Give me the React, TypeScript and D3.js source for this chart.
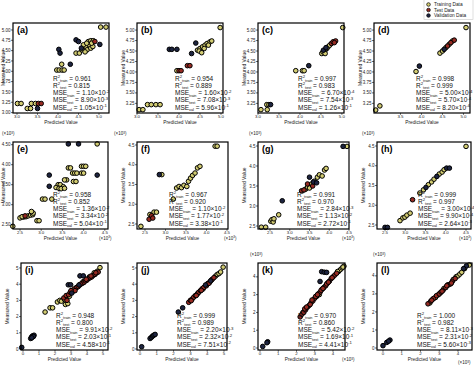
import React from 'react';
import * as d3 from 'd3';

type Pt = [number, number];

// ---- data: [predicted, measured] ----
const trainA: Pt[] = [[5.04,5.07],[5.17,5.07],[3.01,3.22],[3.10,3.22],[3.35,3.22],[3.45,3.22],[3.25,3.10],[3.33,3.10],[3.97,4.03],[4.03,4.03],[4.10,4.03],[4.15,4.03],[4.09,4.17],[4.44,4.44],[4.52,4.44],[4.58,4.52],[4.63,4.56],[4.68,4.60],[4.71,4.52],[4.76,4.64],[4.80,4.56],[4.85,4.60],[4.66,4.47],[4.74,4.72],[4.80,4.74],[4.86,4.74],[4.82,4.68],[4.62,4.64],[4.70,4.68]];
const testA: Pt[] = [[3.52,3.22],[3.59,3.22],[4.90,4.72]];
const valA: Pt[] = [[3.50,3.10],[4.30,4.17],[4.02,4.53],[4.05,4.44],[4.44,4.76],[4.50,4.72],[5.02,4.65],[4.57,4.56]];

const trainB: Pt[] = [[4.98,5.06],[3.05,3.10],[3.14,3.10],[3.25,3.22],[3.34,3.22],[3.45,3.22],[3.55,3.22],[3.95,4.03],[4.44,4.52],[4.50,4.56],[4.56,4.60],[4.62,4.64],[4.67,4.68],[4.74,4.72],[4.78,4.74],[4.48,4.50],[4.60,4.56],[4.70,4.64],[4.54,4.46]];
const testB: Pt[] = [[4.00,4.03],[4.05,4.03],[4.20,4.15],[4.26,4.15]];
const valB: Pt[] = [[3.77,4.54],[3.83,4.54],[3.95,4.54],[4.30,4.44],[4.40,4.69]];

const trainC: Pt[] = [[3.07,3.10],[3.22,3.10],[3.21,3.22],[3.26,3.22],[3.90,4.03],[4.06,4.03],[4.10,4.03],[4.52,4.44],[4.55,4.48],[4.60,4.52],[4.64,4.56],[4.67,4.60],[4.71,4.64],[4.60,4.44],[5.02,5.06]];
const testC: Pt[] = [[4.75,4.68],[4.79,4.72],[4.85,4.74],[4.82,4.70]];
const valC: Pt[] = [[3.30,3.22],[4.21,4.15],[4.56,4.52],[4.62,4.58]];

const trainD: Pt[] = [[2.91,3.09],[3.01,3.19],[3.87,4.01],[4.44,4.45],[4.50,4.50],[4.58,4.58],[4.66,4.66],[4.74,4.74],[5.06,5.06]];
const testD: Pt[] = [[4.62,4.62],[4.70,4.70],[4.78,4.76]];
const valD: Pt[] = [[3.95,4.14],[4.54,4.54]];

const trainE: Pt[] = [[4.32,4.52],[3.64,3.92],[3.69,3.92],[3.95,3.96],[4.00,3.96],[4.05,3.96],[3.74,3.79],[3.79,3.79],[3.84,3.79],[3.95,3.79],[4.00,3.79],[3.76,3.58],[3.82,3.58],[3.60,3.62],[3.55,3.62],[3.40,3.50],[3.45,3.50],[3.52,3.45],[3.35,3.43],[3.42,3.41],[3.47,3.40],[3.55,3.41],[3.03,3.14],[3.09,3.14],[3.25,3.14],[2.50,2.67],[2.58,2.69],[2.64,2.70],[2.69,2.72],[2.75,2.74],[2.80,2.75],[2.81,2.79],[2.77,2.83],[2.55,2.70],[2.90,2.60],[2.95,2.60],[2.33,2.46]];
const testE: Pt[] = [[2.62,2.72]];
const valE: Pt[] = [[3.64,4.52],[3.88,4.52],[4.32,3.74],[3.19,3.74],[3.19,3.46]];

const trainF: Pt[] = [[4.21,4.47],[4.26,4.47],[2.91,3.75],[3.19,3.13],[3.27,3.41],[3.33,3.45],[3.39,3.42],[3.45,3.48],[3.52,3.45],[3.56,3.58],[3.61,3.66],[3.66,3.73],[3.72,3.79],[3.78,3.92],[3.84,3.96],[2.62,2.74],[2.72,2.80],[2.78,2.80],[2.40,2.44]];
const testF: Pt[] = [[2.60,2.62],[2.66,2.71],[2.69,2.65]];
const valF: Pt[] = [[2.85,3.75]];

const trainG: Pt[] = [[2.28,2.47],[2.39,2.47],[2.52,2.62],[2.55,2.66],[2.58,2.60],[2.60,2.68],[2.72,2.78],[3.40,3.42],[3.45,3.47],[3.50,3.45],[3.55,3.55],[3.62,3.62],[3.70,3.72],[3.75,3.78],[3.82,3.75],[3.88,3.90],[3.92,3.94],[4.45,4.49]];
const testG: Pt[] = [[3.30,3.38],[3.36,3.40],[3.45,3.55],[3.58,3.50]];
const valG: Pt[] = [[2.81,3.13],[3.50,3.72],[3.60,3.60],[3.68,3.58],[4.35,4.49]];

const trainH: Pt[] = [[2.87,2.61],[2.94,2.68],[2.99,2.70],[3.04,2.75],[3.12,2.80],[3.36,3.31],[3.45,3.39],[3.57,3.52],[3.65,3.59],[3.71,3.66],[3.84,3.79],[3.91,3.84],[3.96,3.90],[4.50,4.49]];
const testH: Pt[] = [[3.18,3.14]];
const valH: Pt[] = [[2.50,2.44],[2.56,2.44],[3.51,3.45],[3.78,3.73],[4.02,3.94],[4.09,3.94]];

const trainI: Pt[] = [[1.38,2.28],[1.69,2.54],[1.85,2.54],[2.15,2.90],[2.30,3.00],[2.40,2.95],[2.60,3.05],[2.90,3.25],[3.30,3.75],[3.75,4.15],[4.15,4.45],[4.45,4.70],[4.65,4.80],[4.81,5.02],[2.65,2.75],[2.80,2.80]];
const testI: Pt[] = [[2.55,3.15],[2.70,3.30],[2.85,3.35],[2.95,3.50],[3.10,3.55],[3.20,3.70],[3.35,3.80],[3.45,3.85],[3.55,3.95],[3.70,4.05],[3.80,4.10],[3.90,4.20],[4.00,4.25],[4.10,4.35],[4.20,4.40],[4.30,4.45],[4.40,4.55],[4.50,4.60],[4.60,4.70],[4.70,4.75],[3.25,3.60],[3.60,4.00],[3.95,4.30],[4.25,4.50],[4.55,4.70],[3.00,3.60],[2.75,3.00]];
const valI: Pt[] = [[-0.08,0.10],[0.48,0.65],[0.54,0.75],[0.60,0.81],[0.69,0.85],[0.65,0.77],[0.55,0.69],[2.83,3.96],[2.98,3.96],[3.56,4.51],[3.77,4.51],[3.05,3.45],[3.50,3.95]];

const trainJ: Pt[] = [[4.50,4.50],[4.60,4.60],[4.70,4.65],[4.80,4.75],[3.45,3.45],[3.75,3.70],[4.00,4.00],[4.95,5.05],[4.25,4.25]];
const testJ: Pt[] = [[2.90,2.88],[3.00,3.00],[3.10,3.08],[3.20,3.20],[3.30,3.30],[3.40,3.38],[3.50,3.50],[3.60,3.60],[3.70,3.72],[3.80,3.80],[3.95,3.90],[4.05,4.05],[4.15,4.12],[4.30,4.30],[4.40,4.40],[3.05,2.98],[3.35,3.30],[3.65,3.62],[4.10,4.05]];
const valJ: Pt[] = [[0.10,0.14],[0.60,0.65],[0.68,0.72],[0.75,0.80],[0.82,0.85],[0.90,0.90],[2.28,2.28],[2.54,2.54],[3.90,3.95],[4.20,4.20]];

const trainK: Pt[] = [[4.30,4.30],[4.40,4.40],[4.50,4.50],[4.60,4.60],[4.55,4.55],[2.35,2.00],[3.25,3.00],[4.25,4.30]];
const testK: Pt[] = [[2.20,1.75],[2.30,1.90],[2.40,2.00],[2.50,2.15],[2.60,2.30],[2.70,2.40],[2.80,2.55],[2.90,2.65],[3.00,2.80],[3.10,2.90],[3.20,3.05],[3.30,3.15],[3.40,3.30],[3.50,3.40],[3.60,3.50],[3.70,3.65],[3.80,3.75],[3.90,3.90],[4.00,4.00],[4.10,4.10],[4.20,4.20],[2.45,2.20],[2.75,2.45],[3.05,2.90],[3.35,3.25],[3.65,3.60],[3.95,3.95],[2.55,2.30],[2.85,2.70],[3.15,3.00],[3.45,3.35],[3.75,3.70]];
const valK: Pt[] = [[0.15,0.09],[0.42,0.35],[0.38,0.30],[3.38,4.29],[3.52,4.26],[3.65,4.25],[3.29,3.74]];

const trainL: Pt[] = [[2.50,2.50],[2.65,2.70],[2.80,2.80],[2.95,2.95],[3.05,3.05],[3.25,3.30],[3.45,3.50],[3.75,3.80],[3.90,3.95],[4.00,4.00],[4.10,4.10],[4.20,4.20],[4.35,4.40],[4.60,4.60]];
const testL: Pt[] = [[2.40,2.45],[2.55,2.60],[2.70,2.75],[2.85,2.90],[3.00,3.00],[3.10,3.10],[3.20,3.20],[3.35,3.35],[3.50,3.50],[3.60,3.55],[3.70,3.70],[3.85,3.85],[2.60,2.65],[3.15,3.15],[3.40,3.45],[3.65,3.60]];
const valL: Pt[] = [[0.00,0.13],[0.20,0.31],[0.37,0.44],[0.30,0.38],[4.45,4.55],[4.30,4.40]];

// ---- metrics per panel ----
const panelLabels = ['(a)', '(b)', '(c)', '(d)', '(e)', '(f)', '(g)', '(h)', '(i)', '(j)', '(k)', '(l)'];
const r2Train = ['0.961', '0.954', '0.997', '0.998', '0.958', '0.967', '0.991', '0.999', '0.948', '0.999', '0.970', '1.000'];
const r2Test = ['0.815', '0.889', '0.983', '0.999', '0.852', '0.920', '0.970', '0.997', '0.800', '0.989', '0.860', '0.982'];
const mseTrain = [['1.10', '-2'], ['1.60', '-2'], ['6.70', '-4'], ['5.00', '-4'], ['1.36', '-2'], ['1.10', '-2'], ['2.84', '-3'], ['3.00', '-4'], ['9.91', '-2'], ['2.20', '-3'], ['5.42', '-2'], ['8.11', '-3']];
const mseTest = [['8.90', '-3'], ['7.08', '-3'], ['7.54', '-3'], ['5.70', '-4'], ['3.34', '-2'], ['1.77', '-2'], ['1.13', '-2'], ['9.90', '-4'], ['2.03', '-1'], ['2.32', '-2'], ['1.69', '-1'], ['2.31', '-2']];
const mseVal = [['1.05', '-1'], ['5.96', '-1'], ['1.26', '-1'], ['8.20', '-4'], ['5.04', '-1'], ['3.38', '-1'], ['2.72', '-1'], ['2.64', '-3'], ['4.58', '-1'], ['7.51', '-2'], ['4.41', '-1'], ['5.60', '-3']];

const ticks250 = [3, 3.25, 3.5, 3.75, 4, 4.25, 4.5, 4.75, 5];
const ticksHalfA = [3, 3.5, 4, 4.5, 5];
const ticksHalfE = [2.5, 3, 3.5, 4, 4.5];
const ticksInt = [0, 1, 2, 3, 4, 5];

const seriesNames = ['Training Data', 'Test Data', 'Validation Data'];
const seriesFill = ['#d2cc72', '#962a22', '#1d2440'];

interface PanelCfg {
  box: [number, number, number, number];
  xDom: [number, number];
  yDom: [number, number];
  xTicks: number[];
  yTicks: number[];
  xFmt: string;
  yFmt: string;
  series: Pt[][];
  tx: number;
  yTitle?: number;
  expTop?: [number, number];
  expBot?: [number, number];
}

const panels: PanelCfg[] = [
  { box: [13, 23, 109, 113], xDom: [2.902, 5.244], yDom: [2.99, 5.169], xTicks: ticksHalfA, yTicks: ticks250, xFmt: '.1f', yFmt: '.2f', series: [trainA, testA, valA], tx: 40, yTitle: 4.5 },
  { box: [137, 23, 223, 113], xDom: [3.0, 5.048], yDom: [3.02, 5.169], xTicks: ticksHalfA, yTicks: ticks250, xFmt: '.1f', yFmt: '.2f', series: [trainB, testB, valB], tx: 38 },
  { box: [258, 23, 344, 113], xDom: [3.0, 5.05], yDom: [3.02, 5.169], xTicks: ticksHalfA, yTicks: ticks250, xFmt: '.1f', yFmt: '.2f', series: [trainC, testC, valC], tx: 40 },
  { box: [374, 23, 470, 113], xDom: [2.87, 5.155], yDom: [3.02, 5.169], xTicks: [3.5, 4, 4.5, 5], yTicks: ticks250, xFmt: '.1f', yFmt: '.2f', series: [trainD, testD, valD], tx: 42 },
  { box: [13, 142, 108, 229], xDom: [2.335, 4.575], yDom: [2.3925, 4.5675], xTicks: ticksHalfE, yTicks: ticksHalfE, xFmt: '.1f', yFmt: '.2f', series: [trainE, testE, valE], tx: 40, yTitle: 4.5, expTop: [2, 135], expBot: [99, 239.5] },
  { box: [137, 142, 228, 229], xDom: [2.305, 4.524], yDom: [2.373, 4.576], xTicks: ticksHalfE, yTicks: ticksHalfE, xFmt: '.1f', yFmt: '.1f', series: [trainF, testF, valF], tx: 32, expTop: [114, 135], expBot: [224, 239.5] },
  { box: [258, 142, 349, 229], xDom: [2.196, 4.5], yDom: [2.425, 4.6], xTicks: ticksHalfE, yTicks: ticksHalfE, xFmt: '.1f', yFmt: '.1f', series: [trainG, testG, valG], tx: 39, expTop: [249, 135], expBot: [342, 239.5] },
  { box: [377, 142, 471, 229], xDom: [2.302, 4.623], yDom: [2.399, 4.601], xTicks: ticksHalfE, yTicks: ticksHalfE, xFmt: '.1f', yFmt: '.1f', series: [trainH, testH, valH], tx: 41, expTop: [362, 135], expBot: [459, 239.5] },
  { box: [21, 263, 108, 350], xDom: [-0.125, 5.3125], yDom: [-0.061, 5.305], xTicks: ticksInt, yTicks: ticksInt, xFmt: 'd', yFmt: 'd', series: [trainI, testI, valI], tx: 35 },
  { box: [137, 263, 227, 350], xDom: [-0.179, 5.179], yDom: [-0.061, 5.305], xTicks: ticksInt, yTicks: ticksInt, xFmt: 'd', yFmt: 'd', series: [trainJ, testJ, valJ], tx: 40 },
  { box: [258, 263, 345, 350], xDom: [-0.11, 4.658], yDom: [-0.111, 4.778], xTicks: ticksInt, yTicks: ticksInt, xFmt: 'd', yFmt: 'd', series: [trainK, testK, valK], tx: 40, expTop: [250, 256], expBot: [342, 361] },
  { box: [377, 263, 472, 350], xDom: [-0.32, 4.747], yDom: [-0.11, 4.712], xTicks: ticksInt, yTicks: ticksInt, xFmt: 'd', yFmt: 'd', series: [trainL, testL, valL], tx: 40, expTop: [373, 256], expBot: [458, 364] },
];

const FONT = '"Liberation Sans", Arial, Helvetica, sans-serif';

const StatLine: React.FC<{ x: number; y: number; head: string; sup?: string; sub: string; val: string; exp?: string }> = ({ x, y, head, sup, sub, val, exp }) => (
  <text x={x} y={y} fontSize={6.5} fontFamily={FONT} fill="#111">
    <tspan>{head}</tspan>
    {sup ? <tspan fontSize={4.3} dy={-2.5}>{sup}</tspan> : null}
    <tspan fontSize={3.8} dy={sup ? 4.0 : 1.5}>{sub}</tspan>
    <tspan dy={-1.5}>{` = ${val}`}</tspan>
    {exp ? <tspan fontSize={4.3} dy={-2.5}>{exp}</tspan> : null}
  </text>
);

const Panel: React.FC<{ p: PanelCfg; i: number }> = ({ p, i }) => {
  const [x0, y0, x1, y1] = p.box;
  const x = d3.scaleLinear().domain(p.xDom).range([x0, x1]);
  const y = d3.scaleLinear().domain(p.yDom).range([y1, y0]);
  const fx = d3.format(p.xFmt);
  const fy = d3.format(p.yFmt);
  const xt = p.xTicks.filter(t => t >= p.xDom[0] && t <= p.xDom[1]);
  const yt = p.yTicks.filter(t => t >= p.yDom[0] && t <= p.yDom[1]);
  const tx = x0 + p.tx;
  const ty = y1 - 32.5;
  const dl = 7.25;
  const titleX = p.yTitle ?? x0 - 12;
  return (
    <g>
      {p.series.map((pts, s) => (
        <g key={s}>
          {pts.map((d, k) => (
            <circle key={k} cx={x(d[0])} cy={y(d[1])} r={2.3} fill={seriesFill[s]} stroke="#000" strokeWidth={1} />
          ))}
        </g>
      ))}
      <rect x={x0} y={y0} width={x1 - x0} height={y1 - y0} fill="none" stroke="#000" strokeWidth={1.2} />
      {yt.map(t => (
        <g key={'y' + t}>
          <line x1={x0 - 2} x2={x0} y1={y(t)} y2={y(t)} stroke="#000" strokeWidth={0.6} />
          <text x={x0 - 2.6} y={y(t) + 1.6} fontSize={4.5} textAnchor="end" fontFamily={FONT} fill="#222">{fy(t)}</text>
        </g>
      ))}
      {xt.map(t => (
        <g key={'x' + t}>
          <line x1={x(t)} x2={x(t)} y1={y1} y2={y1 + 1.8} stroke="#000" strokeWidth={0.6} />
          <text x={x(t)} y={y1 + 5.4} fontSize={4.4} textAnchor="middle" fontFamily={FONT} fill="#222">{fx(t)}</text>
        </g>
      ))}
      <text x={(x0 + x1) / 2} y={y1 + 10.8} fontSize={4.8} textAnchor="middle" fontFamily={FONT} fill="#222">Predicted Value</text>
      <text transform={`translate(${titleX},${(y0 + y1) / 2}) rotate(-90)`} fontSize={5} textAnchor="middle" fontFamily={FONT} fill="#222">Measured Value</text>
      <text x={x0 + 4} y={y0 + 10} fontSize={9} fontWeight="bold" fontFamily={FONT} fill="#000">{panelLabels[i]}</text>
      {p.expTop ? <text x={p.expTop[0]} y={p.expTop[1]} fontSize={4.5} fontFamily={FONT} fill="#222">(×10<tspan fontSize={3.2} dy={-1.5}>3</tspan><tspan dy={1.5}>)</tspan></text> : null}
      {p.expBot ? <text x={p.expBot[0]} y={p.expBot[1]} fontSize={4.5} fontFamily={FONT} fill="#222">(×10<tspan fontSize={3.2} dy={-1.5}>3</tspan><tspan dy={1.5}>)</tspan></text> : null}
      <StatLine x={tx} y={ty} head="R" sup="2" sub="train" val={r2Train[i]} />
      <StatLine x={tx} y={ty + dl} head="R" sup="2" sub="test" val={r2Test[i]} />
      <StatLine x={tx} y={ty + 2 * dl} head="MSE" sub="train" val={`${mseTrain[i][0]}×10`} exp={mseTrain[i][1]} />
      <StatLine x={tx} y={ty + 3 * dl} head="MSE" sub="test" val={`${mseTest[i][0]}×10`} exp={mseTest[i][1]} />
      <StatLine x={tx} y={ty + 4 * dl} head="MSE" sub="val" val={`${mseVal[i][0]}×10`} exp={mseVal[i][1]} />
    </g>
  );
};

const Legend: React.FC = () => (
  <g>
    <rect x={424} y={-1} width={49} height={20.5} fill="#fff" stroke="#c8c8c8" strokeWidth={0.6} />
    {seriesNames.map((n, k) => (
      <g key={n}>
        <circle cx={428.5} cy={4.5 + k * 5.5} r={1.8} fill={seriesFill[k]} stroke="#000" strokeWidth={0.7} />
        <text x={434} y={6.2 + k * 5.5} fontSize={4.8} fontFamily={FONT} fill="#222">{n}</text>
      </g>
    ))}
  </g>
);

export default function App() {
  return (
    <svg width={474} height={366} viewBox="0 0 474 366" style={{ position: 'absolute', left: 0, top: 0, background: '#fff' }}>
      <rect width={474} height={366} fill="#fff" />
      {panels.map((p, i) => <Panel key={i} p={p} i={i} />)}
      <Legend />
    </svg>
  );
}
